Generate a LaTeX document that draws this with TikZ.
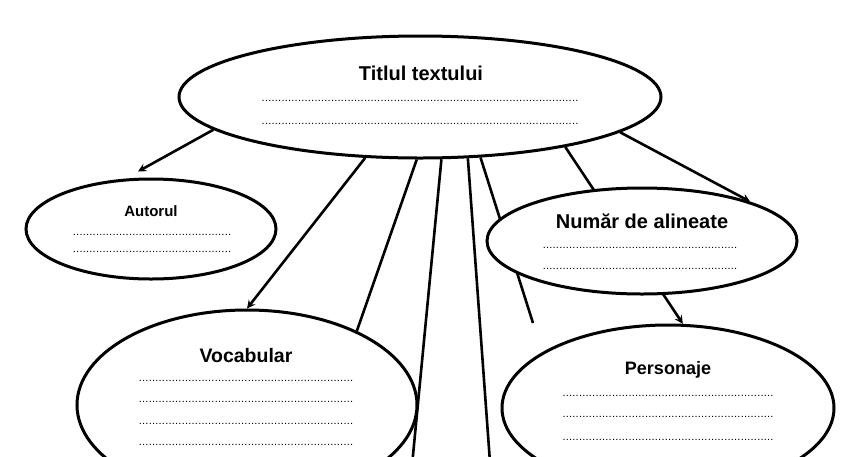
\documentclass[tikz,border=0pt]{standalone}
\usepackage{fontspec}
\setmainfont{Liberation Sans}
\usetikzlibrary{shapes, backgrounds}
\usetikzlibrary{arrows}
\usetikzlibrary{calc}

\begin{document}
\begin{tikzpicture}[x=1pt, y=-1pt,
				bubble/.style={draw, ellipse, line width=3pt, fill=white, inner sep=0pt},
				heading/.style={anchor=base, inner sep=0pt, font=\fontsize{#1}{#1}\selectfont\bfseries},
				dotline/.style={anchor=base, inner sep=0pt, font=\fontsize{7.5}{8}\selectfont\bfseries},
				link/.style={draw, line width=2.6pt}]
				\useasboundingbox (0,0) rectangle (868,456);
				
				\node[bubble, minimum width=482pt, minimum height=122pt](titlu) at (420, 97) {};
				\node[heading=20](titlu-t) at (421, 80) {Titlul textului};
				\node[dotline](titlu-d1) at (420, 101) {\makebox[318pt]{\dotfill}};
				\node[dotline](titlu-d2) at (420, 124) {\makebox[318pt]{\dotfill}};
				
				\node[bubble, minimum width=250pt, minimum height=100pt](autor) at (151, 229) {};
				\node[heading=15](autor-t) at (151, 216) {Autorul};
				\node[dotline](autor-d1) at (152, 235) {\makebox[159pt]{\dotfill}};
				\node[dotline](autor-d2) at (152, 252) {\makebox[159pt]{\dotfill}};
				
				\node[bubble, minimum width=310pt, minimum height=106pt](alineate) at (642, 241) {};
				\node[heading=20](alineate-t) at (642, 228) {Număr de alineate};
				\node[dotline](alineate-d1) at (640, 248) {\makebox[195pt]{\dotfill}};
				\node[dotline](alineate-d2) at (640, 269) {\makebox[195pt]{\dotfill}};
				
				\node[bubble, minimum width=340pt, minimum height=190pt](vocab) at (247, 405) {};
				\node[heading=19.5](vocab-t) at (246, 362) {Vocabular};
				\node[dotline](vocab-d1) at (246, 381) {\makebox[217pt]{\dotfill}};
				\node[dotline](vocab-d2) at (246, 402) {\makebox[217pt]{\dotfill}};
				\node[dotline](vocab-d3) at (246, 424) {\makebox[217pt]{\dotfill}};
				\node[dotline](vocab-d4) at (246, 445) {\makebox[217pt]{\dotfill}};
				
				\node[bubble, minimum width=332pt, minimum height=166pt](pers) at (668, 408) {};
				\node[heading=18](pers-t) at (668, 374) {Personaje};
				\node[dotline](pers-d1) at (668, 396) {\makebox[214pt]{\dotfill}};
				\node[dotline](pers-d2) at (668, 417) {\makebox[214pt]{\dotfill}};
				\node[dotline](pers-d3) at (668, 440) {\makebox[214pt]{\dotfill}};
				
				\coordinate (jos1) at (411, 476);
				\coordinate (jos2) at (491, 476);
				\coordinate (capat) at (533, 323);
				
				\begin{scope}[on background layer]
				\draw [link, -stealth] (titlu.189.6) -- ($(autor.north)+(-13,-6)$);
				\draw [link, -stealth] (titlu.228) -- (vocab.north);
				\draw [link] (titlu.267) -- (vocab.34);
				\draw [link] (titlu.289.5) -- (jos1);
				\draw [link] (titlu.308) -- (jos2);
				\draw [link] (titlu.315) -- (capat);
				\draw [link, -stealth] (titlu.341) -- (pers.80);
				\draw [link, -stealth] (titlu.350) -- (alineate.20);
				\end{scope}
			\end{tikzpicture}
\end{document}
